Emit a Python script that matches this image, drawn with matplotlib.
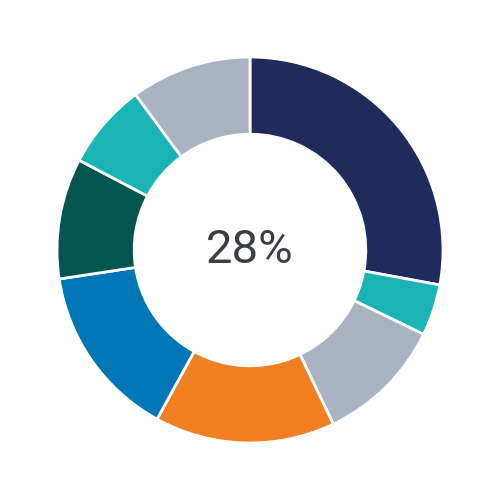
import matplotlib
matplotlib.use("Agg")
import matplotlib.pyplot as plt

values = [27.9, 4.3, 10.7, 15.1, 14.6, 10.1, 7.2, 10.1]
colors = ["#1e2b5b", "#1ab4b6", "#a8b2c0", "#f07f22", "#0076b6", "#02564f", "#1ab4b6", "#a8b2c0"]
center_label = "28%"

fig = plt.figure(figsize=(5, 5), dpi=100)
ax = fig.add_axes([0, 0, 1, 1])
ax.pie(values, colors=colors, startangle=90, counterclock=False,
       radius=1.0, wedgeprops=dict(width=0.4, edgecolor="white", linewidth=2.0))
lim = 250 / 193
ax.set_xlim(-lim, lim)
ax.set_ylim(-lim, lim)
ax.set_aspect("equal")
ax.axis("off")
ax.text(0, 0, center_label, ha="center", va="center", fontsize=34,
        color="#3a3f45", family=["Roboto", "DejaVu Sans"])
fig.savefig("out.png", dpi=100, facecolor="white")
